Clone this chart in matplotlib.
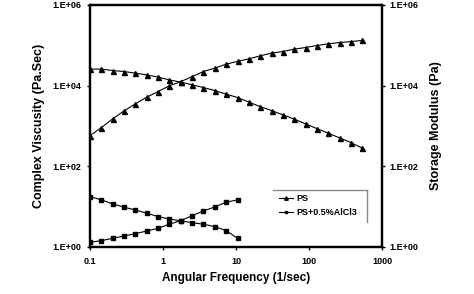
import matplotlib
matplotlib.use("Agg")
import matplotlib.pyplot as plt
from matplotlib.ticker import FixedLocator, FixedFormatter, NullLocator

plt.rcParams['font.family'] = ['Liberation Sans', 'DejaVu Sans']

# angular frequency (1/sec)
freq = [0.1, 0.143, 0.204, 0.292, 0.418, 0.598, 0.855, 1.22, 1.75, 2.5,
        3.58, 5.12, 7.32, 10.5, 15.0, 21.4, 30.6, 43.8, 62.6, 89.5,
        128, 183, 262, 375, 536]

# PS
ps_visc = [25700, 25700, 23700, 22400, 20400, 18500, 16300, 13900, 12200, 10500,
           8970, 7550, 6150, 5070, 3890, 3030, 2410, 1890, 1480, 1130,
           861, 663, 507, 387, 281]
ps_mod = [578, 913, 1500, 2370, 3530, 5190, 7140, 9880, 12600, 16800,
          22400, 27200, 34100, 40100, 46200, 54900, 64000, 70000, 80500, 88200,
          99000, 109000, 117000, 124000, 132000]

# PS + 0.5% AlCl3 (first 14 frequencies)
al_visc = [17.7, 14.7, 11.7, 9.66, 8.28, 6.86, 5.65, 4.95, 4.42, 4.01,
           3.66, 3.19, 2.54, 1.64]
al_mod = [1.31, 1.43, 1.64, 1.87, 2.14, 2.49, 2.91, 3.66, 4.49, 5.98,
          7.82, 9.83, 12.9, 14.7]

y_ticks = [1, 1e2, 1e4, 1e6]
y_labels = ['1.E+00', '1.E+02', '1.E+04', '1.E+06']
x_ticks = [0.1, 1, 10, 100, 1000]
x_labels = ['0.1', '1', '10', '100', '1000']

fig = plt.figure(figsize=(4.74, 2.94), dpi=100)
ax = fig.add_axes([0.190, 0.160, 0.616, 0.823])

tri = dict(color='black', marker='^', markersize=3.6, linewidth=0.8)
sq = dict(color='black', marker='s', markersize=2.8, linewidth=0.8)

ax.plot(freq, ps_visc, label='PS', **tri)
ax.plot(freq, ps_mod, **tri)
ax.plot(freq[:len(al_visc)], al_visc, label='PS+0.5%AlCl3', **sq)
ax.plot(freq[:len(al_mod)], al_mod, **sq)

ax.set_xscale('log')
ax.set_yscale('log')
ax.set_xlim(0.1, 1000)
ax.set_ylim(1, 1e6)

ax.xaxis.set_major_locator(FixedLocator(x_ticks))
ax.xaxis.set_major_formatter(FixedFormatter(x_labels))
ax.xaxis.set_minor_locator(NullLocator())
ax.yaxis.set_major_locator(FixedLocator(y_ticks))
ax.yaxis.set_major_formatter(FixedFormatter(y_labels))
ax.yaxis.set_minor_locator(NullLocator())

ax2 = ax.twinx()
ax2.set_yscale('log')
ax2.set_ylim(1, 1e6)
ax2.yaxis.set_major_locator(FixedLocator(y_ticks))
ax2.yaxis.set_major_formatter(FixedFormatter(y_labels))
ax2.yaxis.set_minor_locator(NullLocator())

for a in (ax, ax2):
    for s in a.spines.values():
        s.set_linewidth(1.6)
ax.tick_params(axis='y', direction='out', length=2.5, width=1, pad=4, labelsize=6.5)
ax.tick_params(axis='x', direction='out', length=2.5, width=1, pad=5, labelsize=6.5)
ax2.tick_params(axis='y', direction='out', length=2.5, width=1, pad=2.5, labelsize=6.5)
for lab in ax.get_xticklabels() + ax.get_yticklabels() + ax2.get_yticklabels():
    lab.set_fontweight('bold')

ax.set_xlabel('Angular Frequency (1/sec)', fontsize=8.5, fontweight='bold', labelpad=4)
ax.set_ylabel('Complex Viscusity (Pa.Sec)', fontsize=9, fontweight='bold', labelpad=5)
ax2.set_ylabel('Storage Modulus (Pa)', fontsize=9, fontweight='bold', labelpad=9)

leg = ax.legend(loc='upper left', bbox_to_anchor=(0.647, 0.219), frameon=False,
                prop={'size': 6.5, 'weight': 'bold'}, handlelength=1.6,
                handletextpad=0.3, labelspacing=0.55, borderaxespad=0,
                borderpad=0, markerscale=0.7)
# legend frame: only top and right edges are visible in the original
ax.plot([0.627, 0.949], [0.236, 0.236], transform=ax.transAxes, color='#888888', lw=1)
ax.plot([0.949, 0.949], [0.236, 0.103], transform=ax.transAxes, color='#888888', lw=1)

fig.savefig('out.png', dpi=100)
